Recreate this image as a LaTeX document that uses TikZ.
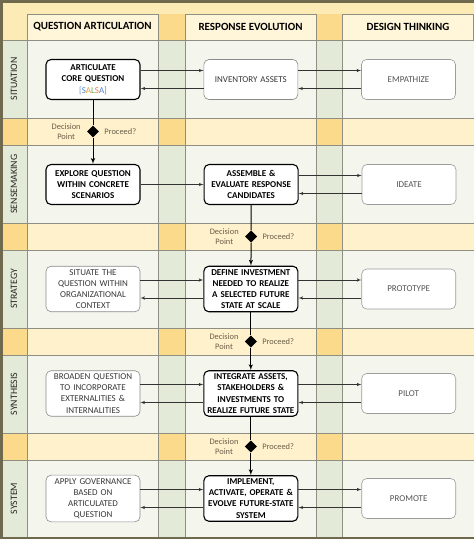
\documentclass[tikz,border=0pt]{standalone}
\usepackage{fontspec}
\setmainfont{Carlito}
\usetikzlibrary{positioning, shapes.geometric, arrows}

\definecolor{topyellow}{HTML}{FDEBB6}
\definecolor{bandyellow}{HTML}{FEF1CC}
\definecolor{gapyellow}{HTML}{FBDA8C}
\definecolor{headfill}{HTML}{FFF5D9}
\definecolor{rowgreen}{HTML}{F4F6EE}
\definecolor{gapgreen}{HTML}{E4EAD8}
\definecolor{gridgray}{HTML}{8E8E82}
\definecolor{framebrown}{HTML}{6F6A4E}
\definecolor{boxgray}{HTML}{8A8A8A}
\definecolor{textgray}{HTML}{383838}
\definecolor{dtgray}{HTML}{545454}
\definecolor{notebrown}{HTML}{6A5E48}
\definecolor{salsaB}{HTML}{7A8CC8}
\definecolor{salsaS}{HTML}{3D8FD1}
\definecolor{salsaA}{HTML}{F39C34}
\definecolor{salsaL}{HTML}{5BB450}
\definecolor{salsaT}{HTML}{F07A3A}
\definecolor{salsaV}{HTML}{4F7FD0}
\definecolor{salsaE}{HTML}{8E6BBF}

\begin{document}
\begin{tikzpicture}[x=1pt, y=-1pt, node distance=63pt, auto,
    font=\fontsize{9}{11.2}\selectfont]
            \tikzstyle{core} = [rectangle, draw=black, line width=1.1pt, fill=white,
                text width=91pt, text centered, rounded corners=5pt, minimum height=40pt,
                inner xsep=1.5pt, inner ysep=3pt, font=\fontsize{9}{11.2}\selectfont\bfseries]
            \tikzstyle{aside} = [rectangle, draw=boxgray, line width=0.6pt, fill=white,
                text=textgray, text width=91pt, text centered, rounded corners=5pt,
                minimum height=40pt, inner xsep=1.5pt, inner ysep=3pt]
            \tikzstyle{phase} = [aside, draw=boxgray!85, text=dtgray]
            \tikzstyle{head} = [rectangle, draw=gridgray, line width=0.7pt, fill=headfill,
                minimum width=131pt, minimum height=26pt,
                font=\fontsize{11}{13}\selectfont\bfseries]
            \tikzstyle{lane} = [rotate=90, text=black!85, font=\fontsize{9.8}{11}\selectfont]
            \tikzstyle{decision} = [diamond, fill=black, minimum size=12pt, inner sep=0pt]
            \tikzstyle{note} = [text=notebrown, align=center, inner sep=0pt,
                font=\fontsize{8.4}{9.5}\selectfont]
            \tikzstyle{line} = [draw, -latex', black!80, line width=0.6pt]
            \tikzstyle{vline} = [draw, -latex', black, line width=1pt]

            \useasboundingbox (0,0) rectangle (474,539);

            % lanes
            \fill[topyellow] (0,0) rectangle (474,539);
            \fill[rowgreen] (27,40) rectangle (474,537);
            \fill[gapgreen] (0,40) rectangle (27,537) (158,40) rectangle (185,537)
                (316,40) rectangle (342,537);
            \fill[gapyellow] (158,14) rectangle (185,40) (316,14) rectangle (342,40);
            \begin{scope}
                \clip (0,118) rectangle (474,145) (0,223) rectangle (474,250)
                    (0,328) rectangle (474,355) (0,433) rectangle (474,460);
                \fill[bandyellow] (0,0) rectangle (474,539);
                \fill[gapyellow] (0,0) rectangle (27,539) (158,0) rectangle (185,539)
                    (316,0) rectangle (342,539);
            \end{scope}
            \draw[gridgray, line width=0.7pt]
                (0,40) -- (474,40) (0,118) -- (474,118) (0,145) -- (474,145)
                (0,223) -- (474,223) (0,250) -- (474,250) (0,328) -- (474,328)
                (0,355) -- (474,355) (0,433) -- (474,433) (0,460) -- (474,460)
                (27,40) -- (27,537) (158,40) -- (158,537) (185,40) -- (185,537)
                (316,40) -- (316,537) (342,40) -- (342,537);
            \draw[framebrown, line width=2.5pt] (474,1.25) -- (1.25,1.25) -- (1.25,537.75) -- (474,537.75);

            % headers
            \node [head] (question) at (92.5,27) {QUESTION ARTICULATION};
            \node [head] (response) at (250.5,27) {RESPONSE EVOLUTION};
            \node [head] (design) at (408,27) {DESIGN THINKING};

            \node [lane] (situation) at (14,79) {SITUATION};
            \node [lane] (sensemaking) at (14,184) {SENSEMAKING};
            \node [lane] (strategy) at (14,289) {STRATEGY};
            \node [lane] (synthesis) at (14,394) {SYNTHESIS};
            \node [lane] (system) at (14,498.5) {SYSTEM};

            % question articulation
            \node [core] (articulate) at (93,79.5) {ARTICULATE\\CORE QUESTION\\
                {\mdseries\color{salsaB}[\color{salsaS}S\color{salsaA}A\color{salsaL}L\color{salsaT}S\color{salsaV}A\color{salsaE}]}};
            \node [core] (explore) at (93,184.5) {EXPLORE QUESTION\\WITHIN CONCRETE\\SCENARIOS};
            \node [aside] (situate) at (93,289) {SITUATE THE\\QUESTION WITHIN\\ORGANIZATIONAL\\CONTEXT};
            \node [aside] (broaden) at (93,393.5) {BROADEN QUESTION\\TO INCORPORATE\\EXTERNALITIES \&\\INTERNALITIES};
            \node [aside] (apply) at (93,498.5) {APPLY GOVERNANCE\\BASED ON\\ARTICULATED\\QUESTION};

            % response evolution
            \node [aside, right=of articulate] (inventory) {INVENTORY ASSETS};
            \node [core, right=of explore] (assemble) {ASSEMBLE \&\\EVALUATE RESPONSE\\CANDIDATES};
            \node [core, right=of situate] (define) {DEFINE INVESTMENT\\NEEDED TO REALIZE\\A SELECTED FUTURE\\STATE AT SCALE};
            \node [core, right=of broaden] (integrate) {INTEGRATE ASSETS,\\STAKEHOLDERS \&\\INVESTMENTS TO\\REALIZE FUTURE STATE};
            \node [core, right=of apply] (implement) {IMPLEMENT,\\ACTIVATE, OPERATE \&\\EVOLVE FUTURE-STATE\\SYSTEM};

            % design thinking
            \node [phase, right=of inventory] (empathize) {EMPATHIZE};
            \node [phase, right=of assemble] (ideate) {IDEATE};
            \node [phase, right=of define] (prototype) {PROTOTYPE};
            \node [phase, right=of integrate] (pilot) {PILOT};
            \node [phase, right=of implement] (promote) {PROMOTE};

            % decision points
            \node [decision] (gate1) at (articulate |- 0,131.5) {};
            \node [decision] (gate2) at (assemble |- 0,236.5) {};
            \node [decision] (gate3) at (define |- 0,341.5) {};
            \node [decision] (gate4) at (integrate |- 0,446.5) {};
            \node [note, left=6pt of gate1] (decide1) {Decision\\Point};
            \node [note, right=5pt of gate1] (proceed1) {Proceed?};
            \node [note, left=6pt of gate2] (decide2) {Decision\\Point};
            \node [note, right=5pt of gate2] (proceed2) {Proceed?};
            \node [note, left=6pt of gate3] (decide3) {Decision\\Point};
            \node [note, right=5pt of gate3] (proceed3) {Proceed?};
            \node [note, left=6pt of gate4] (decide4) {Decision\\Point};
            \node [note, right=5pt of gate4] (proceed4) {Proceed?};

            \path [vline] (articulate) -- (gate1) -- (explore);
            \path [vline] (assemble) -- (gate2) -- (define);
            \path [vline] (define) -- (gate3) -- (integrate);
            \path [vline] (integrate) -- (gate4) -- (implement);

            \path [line] ([yshift=9pt]articulate.east) -- ([yshift=9pt]inventory.west);
            \path [line] ([yshift=-9pt]inventory.west) -- ([yshift=-9pt]articulate.east);
            \path [line] ([yshift=9pt]inventory.east) -- ([yshift=9pt]empathize.west);
            \path [line] ([yshift=-9pt]empathize.west) -- ([yshift=-9pt]inventory.east);
            \path [line] (explore) -- (assemble);
            \path [line] ([yshift=9pt]assemble.east) -- ([yshift=9pt]ideate.west);
            \path [line] ([yshift=-9pt]ideate.west) -- ([yshift=-9pt]assemble.east);
            \path [line] ([yshift=9pt]situate.east) -- ([yshift=9pt]define.west);
            \path [line] ([yshift=-9pt]define.west) -- ([yshift=-9pt]situate.east);
            \path [line] ([yshift=9pt]define.east) -- ([yshift=9pt]prototype.west);
            \path [line] ([yshift=-9pt]prototype.west) -- ([yshift=-9pt]define.east);
            \path [line] ([yshift=9pt]broaden.east) -- ([yshift=9pt]integrate.west);
            \path [line] ([yshift=-9pt]integrate.west) -- ([yshift=-9pt]broaden.east);
            \path [line] ([yshift=9pt]integrate.east) -- ([yshift=9pt]pilot.west);
            \path [line] ([yshift=-9pt]pilot.west) -- ([yshift=-9pt]integrate.east);
            \path [line] ([yshift=9pt]apply.east) -- ([yshift=9pt]implement.west);
            \path [line] ([yshift=-9pt]implement.west) -- ([yshift=-9pt]apply.east);
            \path [line] ([yshift=9pt]implement.east) -- ([yshift=9pt]promote.west);
            \path [line] ([yshift=-9pt]promote.west) -- ([yshift=-9pt]implement.east);
        \end{tikzpicture}
\end{document}
